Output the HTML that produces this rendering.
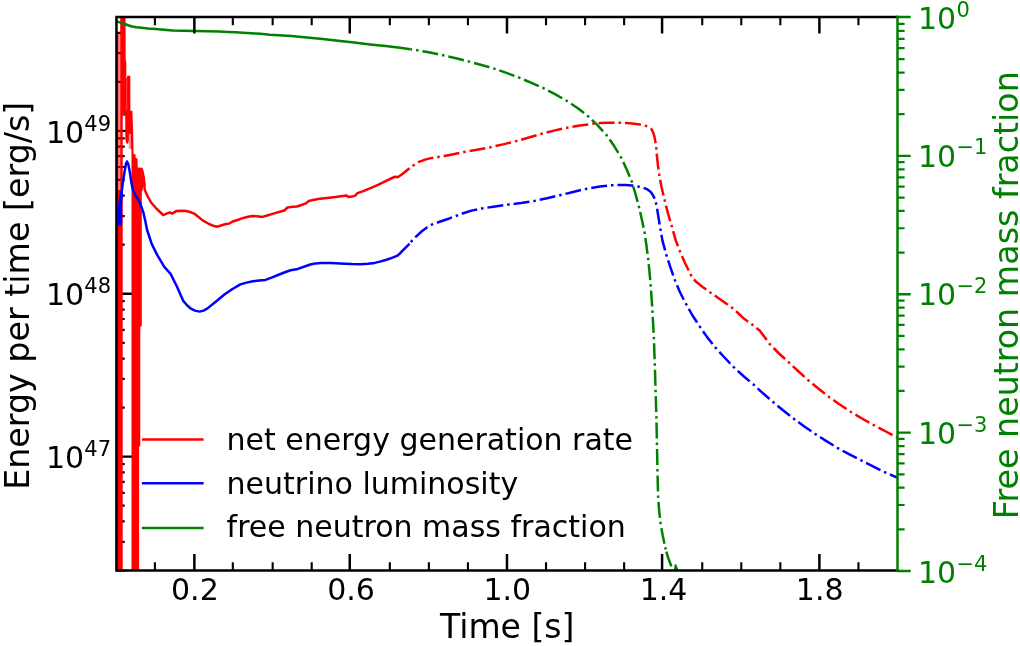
<!DOCTYPE html>
<html lang="en"><head><meta charset="utf-8"><title>Energy per time and free neutron mass fraction</title>
<style>html,body{margin:0;padding:0;background:#fff}svg{display:block;filter:blur(0.35px)}text{font-family:"DejaVu Sans", "Liberation Sans", sans-serif;}</style></head>
<body>
<svg width="1020" height="646" viewBox="0 0 1020 646">
<rect width="1020" height="646" fill="#fff"/>
<defs><clipPath id="ax"><rect x="116.45" y="17.0" width="781.05" height="553.5"/></clipPath></defs>
<path d="M116.45 456.64h16.5M116.45 293.75h16.5M116.45 130.86h16.5" stroke="#000" stroke-width="2.4" fill="none"/>
<path d="M116.45 570.50h8.25M116.45 541.82h8.25M116.45 521.46h8.25M116.45 505.68h8.25M116.45 492.78h8.25M116.45 481.88h8.25M116.45 472.43h8.25M116.45 464.10h8.25M116.45 407.61h8.25M116.45 378.92h8.25M116.45 358.57h8.25M116.45 342.79h8.25M116.45 329.89h8.25M116.45 318.98h8.25M116.45 309.54h8.25M116.45 301.20h8.25M116.45 244.71h8.25M116.45 216.03h8.25M116.45 195.68h8.25M116.45 179.89h8.25M116.45 166.99h8.25M116.45 156.09h8.25M116.45 146.64h8.25M116.45 138.31h8.25M116.45 81.82h8.25M116.45 53.14h8.25M116.45 32.79h8.25M116.45 17.00h8.25" stroke="#000" stroke-width="2.2" fill="none"/>
<g clip-path="url(#ax)">
<path d="M122.6,17 L125.6,17 L125.7,60 L126.3,62 L126.3,78 L127.1,78 L127.1,75.7 L130.3,75.7 L130.4,110.7 L132.4,110.7 L133.2,133 L133.5,150 L133.6,154 L135.5,154.3 L135.7,158 L137.5,158.4 L137.8,167.4 L141.7,167.8 L141.9,175.7 L143.7,176.1 L143.9,180 L145,180.4 L145.6,186 L143.2,186.5 L142.6,190 L141.8,192 L141.8,326 L140.3,327 L140.3,446 L139.1,447 L139.1,570.5 L131.5,570.5 L131.5,150 L130.8,148 L130.8,134 L128.9,134 L128.9,140 L128.2,143 L127.3,144 L126.2,143 L125.3,139 L125.2,115.8 L122.6,115.8 Z M117.1,33.8 H118.5 V570.5 H117.1 Z M118.5,190 H120.3 V570.5 H118.5 Z M120.2,17 H122.7 V570.5 H120.2 Z" fill="#f00" stroke="none"/>
<path d="M118.4,33.8H120.3V190H118.4ZM128.8,134H130.9V149H128.8Z" fill="#f00" fill-opacity="0.42" stroke="none"/>
<path d="M126.7,79V110" stroke="#fff" stroke-opacity="0.3" stroke-width="0.9" fill="none"/>
<path d="M141.2,168.0 L142.6,172.0 L143.9,178.8 L144.7,189.8 L147.5,196.0 L151.0,202.4 L155.7,207.8 L160.0,212.0 L163.2,215.2 L166.5,213.6 L169.8,212.5 L172.2,213.6 L176.1,211.1 L181.0,210.8 L186.3,211.0 L190.0,212.0 L194.1,213.6 L198.5,217.0 L202.7,220.4 L209.0,224.0 L213.0,225.6 L216.9,226.7 L221.0,225.5 L225.0,224.3 L229.4,223.5 L233.3,221.2 L237.5,220.0 L242.0,218.4 L247.0,217.0 L252.2,216.0 L257.0,216.3 L262.4,216.9 L268.0,215.2 L273.3,213.6 L279.0,212.0 L284.3,210.5 L287.5,207.5 L293.0,206.8 L297.0,206.5 L301.5,205.0 L305.7,203.4 L308.8,201.0 L313.0,200.0 L318.2,199.0 L327.0,198.0 L335.5,197.1 L341.0,196.3 L346.5,195.6 L348.8,197.1 L352.0,196.6 L355.1,195.6 L357.5,193.2 L364.0,190.8 L371.6,187.7 L378.0,184.8 L384.1,181.8 L390.0,179.0 L395.1,176.7 L398.2,177.0 L403.0,173.5 L409.5,168.2" fill="none" stroke="#f00" stroke-width="2.5" stroke-linejoin="round"/>
<path d="M409.5,168.2 L413.5,165.3 L418.3,162.2 L425.0,159.6 L432.0,157.9 L438.2,157.0 L444.5,155.9 L452.0,154.5 L464.3,152.0 L477.0,149.8 L490.2,147.3 L503.0,144.4 L516.1,141.1 L529.0,137.5 L541.6,133.8 L554.0,130.6 L567.1,127.7 L580.0,125.6 L591.8,123.9 L600.0,123.1 L609.0,122.7 L620.0,122.7 L627.0,123.1 L634.1,123.8 L640.0,124.6 L645.9,125.9 L649.0,127.2 L651.4,129.0 L653.2,132.5 L654.5,136.9 L655.6,143.0 L656.4,148.6 L656.9,155.7 L657.9,165.0 L659.2,174.2 L661.5,187.0 L664.7,200.4 L668.0,213.5 L671.8,226.3 L675.7,240.4 L679.6,250.4 L685.0,263.0 L690.9,275.0 L693.5,279.0 L696.1,281.8 L703.0,287.2 L710.2,292.4 L720.0,299.2 L731.4,307.2 L738.0,313.0 L743.9,318.6 L751.8,324.3 L759.6,330.4 L769.8,344.2 L779.0,353.5 L788.6,362.2 L798.0,371.0 L808.2,380.2 L818.0,388.3 L828.6,396.7 L839.0,404.0 L850.6,411.7 L862.0,418.5 L873.3,424.8 L885.9,431.5 L897.6,437.8" fill="none" stroke="#f00" stroke-width="2.5" stroke-linejoin="round" stroke-dasharray="16 3.97 2.5 3.97" stroke-dashoffset="16.08"/>
<path d="M119.3,226.0 L119.8,215.0 L120.8,200.0 L122.4,186.0 L124.5,172.0 L126.0,163.8 L127.0,161.5 L128.2,163.8 L129.8,172.0 L131.8,185.0 L133.0,190.0 L135.3,195.0 L137.6,198.5 L140.0,203.0 L143.5,213.0 L145.5,222.0 L147.1,230.0 L151.8,244.1 L157.3,255.1 L164.3,266.9 L170.6,273.9 L176.9,286.5 L183.1,300.6 L187.0,305.3 L191.0,308.7 L195.0,310.6 L199.6,311.6 L203.5,310.6 L207.5,308.4 L216.0,301.5 L224.7,294.3 L232.5,289.0 L240.4,284.4 L246.5,282.6 L252.9,281.3 L259.0,280.6 L265.5,279.9 L271.5,277.7 L278.0,275.0 L284.3,272.5 L290.6,270.3 L297.8,268.9 L304.0,266.8 L310.4,264.5 L315.5,263.4 L321.4,262.9 L330.8,262.9 L344.9,263.7 L352.0,264.1 L360.6,264.2 L368.0,263.8 L374.7,262.9 L381.0,261.4 L387.3,259.5 L392.5,257.6 L397.5,255.6 L400.2,253.2 L402.9,250.4 L408.4,244.9 L409.5,243.7" fill="none" stroke="#00f" stroke-width="2.5" stroke-linejoin="round"/>
<path d="M117.7,224.6 Q117.7,226.2 119.9,226.2 Q122.1,226.2 122.1,224.6 L122.2,205 L122.9,192 L120.6,190 L118.6,200 L117.7,212 Z" fill="#00f" stroke="none"/>
<path d="M409.5,243.7 L412.0,240.7 L416.3,236.3 L421.5,231.5 L427.3,227.3 L432.0,224.5 L437.5,222.5 L450.0,218.2 L460.0,214.4 L471.4,210.6 L481.6,208.5 L495.0,206.5 L508.2,204.6 L521.0,203.0 L534.1,201.0 L547.0,198.3 L560.0,195.2 L573.0,192.0 L585.9,188.9 L600.0,186.4 L612.2,185.2 L619.0,184.9 L625.5,185.0 L632.0,185.6 L638.4,186.6 L643.0,187.7 L647.5,189.4 L650.5,191.7 L652.9,194.9 L654.7,198.8 L656.1,203.5 L657.3,210.0 L658.4,216.9 L659.5,223.5 L660.5,229.7 L662.4,240.4 L666.3,254.8 L670.5,267.7 L674.9,280.2 L680.0,292.3 L685.9,303.7 L692.5,315.5 L700.0,326.9 L707.5,337.6 L715.7,347.9 L724.5,357.5 L733.7,367.1 L743.9,376.5 L753.3,384.3 L763.0,393.3 L773.1,402.0 L783.0,410.3 L793.5,418.4 L804.0,426.2 L814.9,433.7 L826.0,440.9 L837.3,447.8 L849.0,454.2 L861.2,460.4 L873.0,466.4 L884.7,472.2 L897.6,477.8" fill="none" stroke="#00f" stroke-width="2.5" stroke-linejoin="round" stroke-dasharray="16 3.97 2.5 3.97" stroke-dashoffset="17.91"/>
<path d="M117.1,21.5 L120.5,22.6 L124.1,23.8 L128.0,25.2 L132.0,26.5 L136.5,27.2 L141.4,27.7 L148.0,28.5 L155.5,29.1 L164.0,29.8 L172.7,30.4 L183.0,30.7 L194.7,30.9 L207.0,31.2 L219.8,31.5 L227.5,31.9 L235.5,32.3 L243.0,32.7 L251.2,33.2 L260.0,33.8 L270.0,34.8 L291.4,35.9 L307.0,37.4 L322.7,39.0 L338.0,40.8 L354.1,42.6 L370.0,44.4 L385.5,46.1 L398.0,47.6 L410.5,49.3" fill="none" stroke="#008000" stroke-width="2.5" stroke-linejoin="round"/>
<path d="M410.5,49.3 L417.5,50.3 L430.0,52.6 L443.1,55.3 L456.0,58.3 L469.0,61.6 L481.5,65.0 L494.1,68.6 L506.5,72.9 L519.2,77.7 L531.5,82.8 L543.5,88.2 L555.0,94.2 L566.7,100.8 L577.5,108.0 L587.8,116.0 L597.5,125.2 L606.7,135.3 L614.0,145.8 L621.1,157.5 L626.5,169.0 L631.8,181.6 L635.6,194.3 L639.1,207.5 L642.0,220.2 L644.7,233.0 L646.5,246.0 L648.2,259.0 L649.5,272.0 L650.7,285.4 L651.6,298.5 L652.5,311.9 L653.2,325.0 L653.9,338.4 L654.8,365.0 L655.6,391.1 L656.4,417.6 L657.0,447.0 L657.6,476.6 L658.1,496.6 L659.1,510.0 L660.5,523.2 L662.8,536.0 L664.9,545.8" fill="none" stroke="#008000" stroke-width="2.5" stroke-linejoin="round" stroke-dasharray="16 3.97 2.5 3.97" stroke-dashoffset="14.35"/>
<path d="M665.25,547.2L665.75,549.6M666.3,551.6L668.6,559L671.4,566.4" fill="none" stroke="#008000" stroke-width="2.5"/>
<path d="M673.6,571L674.7,564.6L676.1,564.1L678.5,570Z" fill="#008000" stroke="none"/>
</g>
<path d="M194.36 570.5v-16.5M194.36 17.0v16.5M349.76 570.5v-16.5M349.76 17.0v16.5M506.97 570.5v-16.5M506.97 17.0v16.5M662.08 570.5v-16.5M662.08 17.0v16.5M819.39 570.5v-16.5M819.39 17.0v16.5" stroke="#000" stroke-width="2.5" fill="none"/>
<path d="M154.90 570.5v-8.25M154.90 17.0v8.25M232.81 570.5v-8.25M232.81 17.0v8.25M272.66 570.5v-8.25M272.66 17.0v8.25M311.71 570.5v-8.25M311.71 17.0v8.25M389.82 570.5v-8.25M389.82 17.0v8.25M428.87 570.5v-8.25M428.87 17.0v8.25M467.92 570.5v-8.25M467.92 17.0v8.25M546.03 570.5v-8.25M546.03 17.0v8.25M585.08 570.5v-8.25M585.08 17.0v8.25M624.13 570.5v-8.25M624.13 17.0v8.25M702.24 570.5v-8.25M702.24 17.0v8.25M741.29 570.5v-8.25M741.29 17.0v8.25M780.34 570.5v-8.25M780.34 17.0v8.25M858.45 570.5v-8.25M858.45 17.0v8.25" stroke="#000" stroke-width="2.1" fill="none"/>
<path d="M897.5 571.00h13.2M897.5 432.62h13.2M897.5 294.25h13.2M897.5 155.88h13.2M897.5 17.00h13.2" stroke="#008000" stroke-width="2.4" fill="none"/>
<path d="M897.5 529.34h7.1M897.5 504.98h7.1M897.5 487.69h7.1M897.5 474.28h7.1M897.5 463.32h7.1M897.5 454.06h7.1M897.5 446.03h7.1M897.5 438.96h7.1M897.5 390.97h7.1M897.5 366.60h7.1M897.5 349.31h7.1M897.5 335.91h7.1M897.5 324.95h7.1M897.5 315.68h7.1M897.5 307.66h7.1M897.5 300.58h7.1M897.5 252.59h7.1M897.5 228.23h7.1M897.5 210.94h7.1M897.5 197.53h7.1M897.5 186.57h7.1M897.5 177.31h7.1M897.5 169.28h7.1M897.5 162.21h7.1M897.5 114.22h7.1M897.5 89.85h7.1M897.5 72.56h7.1M897.5 59.16h7.1M897.5 48.20h7.1M897.5 38.93h7.1M897.5 30.91h7.1M897.5 23.83h7.1" stroke="#008000" stroke-width="2.2" fill="none"/>
<path d="M116.45 571.75V15.75M115.2 17.0H898.75M115.2 570.5H898.75" stroke="#000" stroke-width="2.5" fill="none"/>
<path d="M897.5 15.75V571.75" stroke="#008000" stroke-width="2.5" fill="none"/>
<text x="194.9" y="599.7" font-size="30" text-anchor="middle" fill="#000">0.2</text>
<text x="351.1" y="599.7" font-size="30" text-anchor="middle" fill="#000">0.6</text>
<text x="507.3" y="599.7" font-size="30" text-anchor="middle" fill="#000">1.0</text>
<text x="663.5" y="599.7" font-size="30" text-anchor="middle" fill="#000">1.4</text>
<text x="819.7" y="599.7" font-size="30" text-anchor="middle" fill="#000">1.8</text>
<text x="45.9" y="468.0" font-size="30" fill="#000">10<tspan font-size="21" dx="0.2" dy="-12.1">47</tspan></text>
<text x="45.9" y="304.8" font-size="30" fill="#000">10<tspan font-size="21" dx="0.2" dy="-12.1">48</tspan></text>
<text x="45.9" y="143.0" font-size="30" fill="#000">10<tspan font-size="21" dx="0.2" dy="-12.1">49</tspan></text>
<text x="918.0" y="29.4" font-size="30" fill="#008000">10<tspan font-size="21" dx="0.2" dy="-12.1">0</tspan></text>
<text x="918.0" y="166.5" font-size="30" fill="#008000">10<tspan font-size="21" dx="0.2" dy="-12.1">−1</tspan></text>
<text x="918.0" y="304.9" font-size="30" fill="#008000">10<tspan font-size="21" dx="0.2" dy="-12.1">−2</tspan></text>
<text x="918.0" y="443.8" font-size="30" fill="#008000">10<tspan font-size="21" dx="0.2" dy="-12.1">−3</tspan></text>
<text x="918.0" y="582.7" font-size="30" fill="#008000">10<tspan font-size="21" dx="0.2" dy="-12.1">−4</tspan></text>
<text x="440.0" y="637.6" font-size="33.1" fill="#000">Time [s]</text>
<text transform="translate(28.8,489.8) rotate(-90)" font-size="33.3" fill="#000">Energy per time [erg/s]</text>
<text transform="translate(1018.2,519.2) rotate(-90)" font-size="33.3" fill="#008000">Free neutron mass fraction</text>
<path d="M141.9 439.6H203.6" stroke="#f00" stroke-width="2.5" fill="none"/>
<text x="226.6" y="449.7" font-size="30" fill="#000">net energy generation rate</text>
<path d="M141.9 483.3H203.6" stroke="#00f" stroke-width="2.5" fill="none"/>
<text x="226.6" y="493.5" font-size="30" fill="#000">neutrino luminosity</text>
<path d="M141.9 528.0H203.6" stroke="#008000" stroke-width="2.5" fill="none"/>
<text x="226.6" y="537.2" font-size="30" fill="#000">free neutron mass fraction</text>
</svg>
</body></html>
